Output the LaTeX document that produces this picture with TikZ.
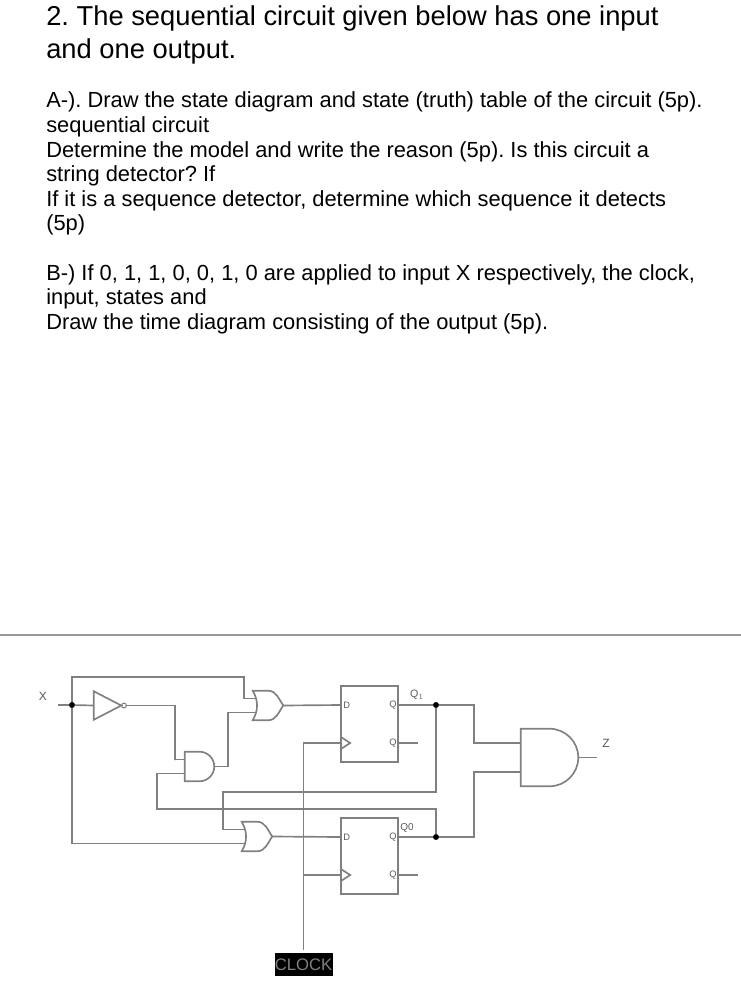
\documentclass[tikz,border=0pt]{standalone}
\usepackage{fontspec}
\setmainfont{Liberation Sans}
\usetikzlibrary{calc}
\definecolor{wiregray}{gray}{0.5}
\frenchspacing
\begin{document}
\begin{tikzpicture}
  [x=0.75pt,y=-0.75pt,
   wire/.style={draw=wiregray,line width=1.25pt},
   dot/.style={draw,fill,circle,inner sep=1.4pt,minimum width=0pt},
   flipflop/.style={draw=wiregray,line width=1.25pt,rectangle,minimum width=42.75pt,minimum height=57pt,inner sep=0pt},
   pinlabel/.style={text=black!65,font=\fontsize{7}{7}\selectfont,inner sep=0pt},
   sigLabel/.style={text=black!65,font=\fontsize{7.5}{8}\selectfont,inner sep=0pt},
   head/.style={anchor=base west,inner sep=0pt,font=\fontsize{20.5}{21}\selectfont},
   body/.style={anchor=base west,inner sep=0pt,font=\fontsize{16.4}{17}\selectfont}
  ]
  \useasboundingbox (0,0) rectangle (741,981);

  % question text
  \node[head] (t1) at (46,26) {2. The sequential circuit given below has one input};
  \node[head] (t2) at (46,59) {and one output.};
  \foreach \n/\y/\s in {b1/108/{A-). Draw the state diagram and state (truth) table of the circuit (5p).},
                        b2/132/{sequential circuit},
                        b3/157/{Determine the model and write the reason (5p). Is this circuit a},
                        b4/181/{string detector? If},
                        b5/206/{If it is a sequence detector, determine which sequence it detects},
                        b6/230/{(5p)},
                        b7/280/{B-) If 0, 1, 1, 0, 0, 1, 0 are applied to input X respectively, the clock,},
                        b8/304/{input, states and},
                        b9/329/{Draw the time diagram consisting of the output (5p).}}
    \node[body] (\n) at (46,\y) {\s};

  % separator
  \coordinate (sepl) at (0,635);
  \coordinate (sepr) at (741,635);
  \draw[draw=black!40,line width=0.8pt] (sepl) -- (sepr);

  % inverter
  \node[minimum width=20.25pt,minimum height=21pt,inner sep=0pt] (inv) at (107.5,705.5) {};
  \draw[wire] (inv.north west) -- (inv.east) -- (inv.south west) -- cycle;
  \node[draw=wiregray,line width=0.8pt,circle,inner sep=0pt,minimum width=3.6pt] (bubble) at (124,705.5) {};

  % and gates
  \foreach \g/\x/\y/\w/\s in {andA/199.5/766.5/29/7,andB/549.5/757.5/57/14.5} {
    \node[minimum width=\w*0.75pt,minimum height=\w*0.75pt,inner sep=0pt] (\g) at (\x,\y) {};
    \draw[wire] (\g.north) -- (\g.north west) -- (\g.south west) -- (\g.south)
       to[out=0,in=-90] (\g.east) to[out=90,in=0] cycle;
    \coordinate (\g a) at ($(\g.west)+(0,-\s)$);
    \coordinate (\g b) at ($(\g.west)+(0,\s)$);
  }

  % or gates
  \foreach \g/\x/\y in {orA/268/705.5,orB/257/836.5} {
    \node[minimum width=22.5pt,minimum height=21.75pt,inner sep=0pt] (\g) at (\x,\y) {};
    \draw[wire] (\g.north west) -- (\g.north) to[out=0,in=125] (\g.east)
       to[out=-125,in=0] (\g.south) -- (\g.south west) to[out=60,in=-60] cycle;
    \coordinate (\g a) at ($(\g.west)+(3,-7)$);
    \coordinate (\g b) at ($(\g.west)+(3,7)$);
  }

  % flip flops
  \foreach \f/\y in {ffA/724,ffB/856} {
    \node[flipflop] (\f) at (369.5,\y) {};
    \coordinate (\f d) at ($(\f.west)+(0,-19)$);
    \coordinate (\f c) at ($(\f.west)+(0,19)$);
    \coordinate (\f q) at ($(\f.east)+(0,-19)$);
    \coordinate (\f n) at ($(\f.east)+(0,19)$);
    \node[pinlabel,anchor=west] (\f dl) at ($(\f d)+(3,0)$) {D};
    \node[pinlabel,anchor=east] (\f ql) at ($(\f q)+(-2,0)$) {Q};
    \node[pinlabel,anchor=east] (\f nl) at ($(\f n)+(-2,0)$) {Q};
    \draw[wire] ($(\f c)+(0,-6.5)$) -- ($(\f c)+(10,0)$) -- ($(\f c)+(0,6.5)$);
    \coordinate (\f o) at ($(\f n)+(19,0)$);
    \draw[wire] (\f n) -- (\f o);
  }

  % labels and terminals
  \node[sigLabel,font=\fontsize{9}{9}\selectfont] (xlabel) at (43,696) {X};
  \node[sigLabel,font=\fontsize{8}{8}\selectfont] (qa) at (417,695) {Q$_1$};
  \node[sigLabel] (qb) at (407,828) {Q0};
  \node[sigLabel,font=\fontsize{9}{9}\selectfont] (zlabel) at (606,743) {Z};
  \node[fill=black,text=black!50,inner sep=0pt,minimum width=43.5pt,minimum height=17.25pt,font=\fontsize{12.5}{13}\selectfont] (clock) at (303.5,964.5) {CLOCK};
  \coordinate (xin) at (58,705);
  \coordinate (zout) at (597,757.5);
  \node[dot] (xdot) at (72,705) {};
  \node[dot] (qadot) at (436,705) {};
  \node[dot] (qbdot) at (436,837) {};

%connections
  \draw[wire] (xin) -- (xdot) -- (inv.west);
  \draw[wire] (bubble.east) -| (175,760) |- (andAa);
  \draw[wire] (andA.east) -| (228,712) |- (orAb);
  \draw[wire] (xdot) |- (244,677) |- (orAa);
  \draw[wire] (xdot) |- (orBb);
  \draw[wire] (orA.east) -- (ffAd);
  \draw[wire] (orB.east) -- (ffBd);
  \draw[wire] (ffAq) -- (qadot) -- (474,705) |- (andBa);
  \draw[wire] (ffBq) -- (qbdot) -- (474,837) |- (andBb);
  \draw[wire] (qadot) |- (223,792) |- (orBa);
  \draw[wire] (qbdot) |- (157,809) |- (andAb);
  \draw[wire,shorten <=2pt] (clock.north) |- (ffBc);
  \draw[wire] (clock.north |- ffBc) |- (ffAc);
  \draw[wire] (andB.east) -- (zout);
\end{tikzpicture}
\end{document}
